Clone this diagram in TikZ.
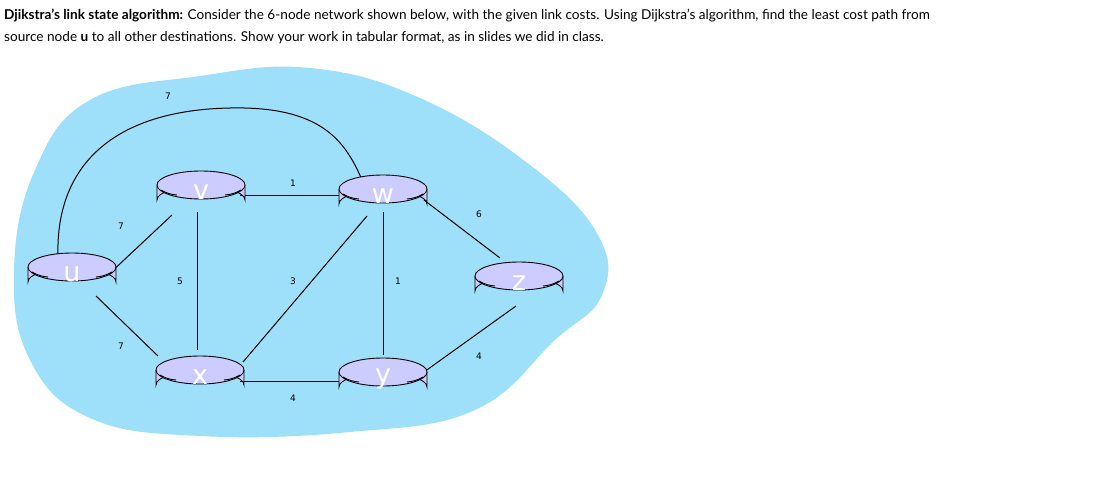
\documentclass[tikz,border=0pt]{standalone}
\usepackage{fontspec}
\setmainfont{Lato}
\newfontfamily\rfont{DejaVu Sans}
\begin{document}
\begin{tikzpicture}[x=1pt,y=-1pt,
  lnk/.style={line width=1pt,black},
  cost/.style={font=\rfont\fontsize{9}{9}\selectfont,inner sep=0pt},
  rt/.style={minimum width=88pt,minimum height=46pt,inner sep=0pt,draw=none}]
\useasboundingbox (0,0) rectangle (1105,487);
\node[anchor=west,inner sep=0pt,font=\fontsize{13.6}{16}\selectfont] (t1) at (4,15) {\textbf{Djikstra's link state algorithm:} Consider the 6-node network shown below, with the given link costs. Using Dijkstra's algorithm, find the least cost path from};
\node[anchor=west,inner sep=0pt,font=\fontsize{13.6}{16}\selectfont] (t2) at (4,38) {source node \textbf{u} to all other destinations. Show your work in tabular format, as in slides we did in class.};
% blob
\fill[fill={rgb,255:red,158;green,224;blue,250}] plot[smooth cycle,tension=0.7] coordinates {
 (14,270) (35,170) (90,100) (200,76) (310,68) (420,98) (530,165) (598,235) (602,295) (555,340) (475,410) (350,432) (200,436) (90,418) (30,360)};
% router macro
\newcommand{\router}[4]{%
 \node[rt] (#1) at (#2,#3) {};
 \filldraw[fill={rgb,255:red,204;green,204;blue,255},line width=0.9pt] (#2-44,#3-6) -- (#2-44,#3+9) arc[start angle=180,end angle=360,x radius=44,y radius=14] -- (#2+44,#3-6);
 \filldraw[fill={rgb,255:red,204;green,204;blue,255},line width=0.9pt] (#2,#3-6) ellipse[x radius=44,y radius=14];
 \draw[line width=0.9pt] (#2-40,#3-1) to[bend right=12] (#2-24,#3+4);
 \draw[line width=0.9pt] (#2+40,#3-1) to[bend left=12] (#2+24,#3+4);
 \node[text=white,font=\rfont\fontsize{27}{27}\selectfont,inner sep=0pt] at (#2,#3+1) {#4};}
% edges first
\coordinate (utop) at (58,257);
\coordinate (wtop) at (362,180);
\draw[lnk] (utop) .. controls (55,160) and (120,110) .. (230,108) .. controls (320,106) and (345,140) .. (wtop);
\draw[lnk] (108,275) -- (172,215);
\draw[lnk] (96,296) -- (158,356);
\draw[lnk] (240,195) -- (340,195);
\draw[lnk] (197,212) -- (197,350);
\draw[lnk] (243,362) -- (367,216);
\draw[lnk] (383,212) -- (383,355);
\draw[lnk] (240,381) -- (340,381);
\draw[lnk] (424,200) -- (500,258);
\draw[lnk] (424,372) -- (516,306);
\router{u}{72}{273}{u}
\router{v}{201}{191}{v}
\router{w}{383}{195}{w}
\router{z}{519}{282}{z}
\router{x}{200}{376}{x}
\router{y}{383}{378}{y}
\node[cost] (c1) at (168,96) {7};
\node[cost] (c2) at (121,226) {7};
\node[cost] (c3) at (121,346) {7};
\node[cost] (c4) at (293,183) {1};
\node[cost] (c5) at (180,281) {5};
\node[cost] (c6) at (293,281) {3};
\node[cost] (c7) at (398,281) {1};
\node[cost] (c8) at (293,398) {4};
\node[cost] (c9) at (479,214) {6};
\node[cost] (c10) at (479,356) {4};
\end{tikzpicture}
\end{document}
